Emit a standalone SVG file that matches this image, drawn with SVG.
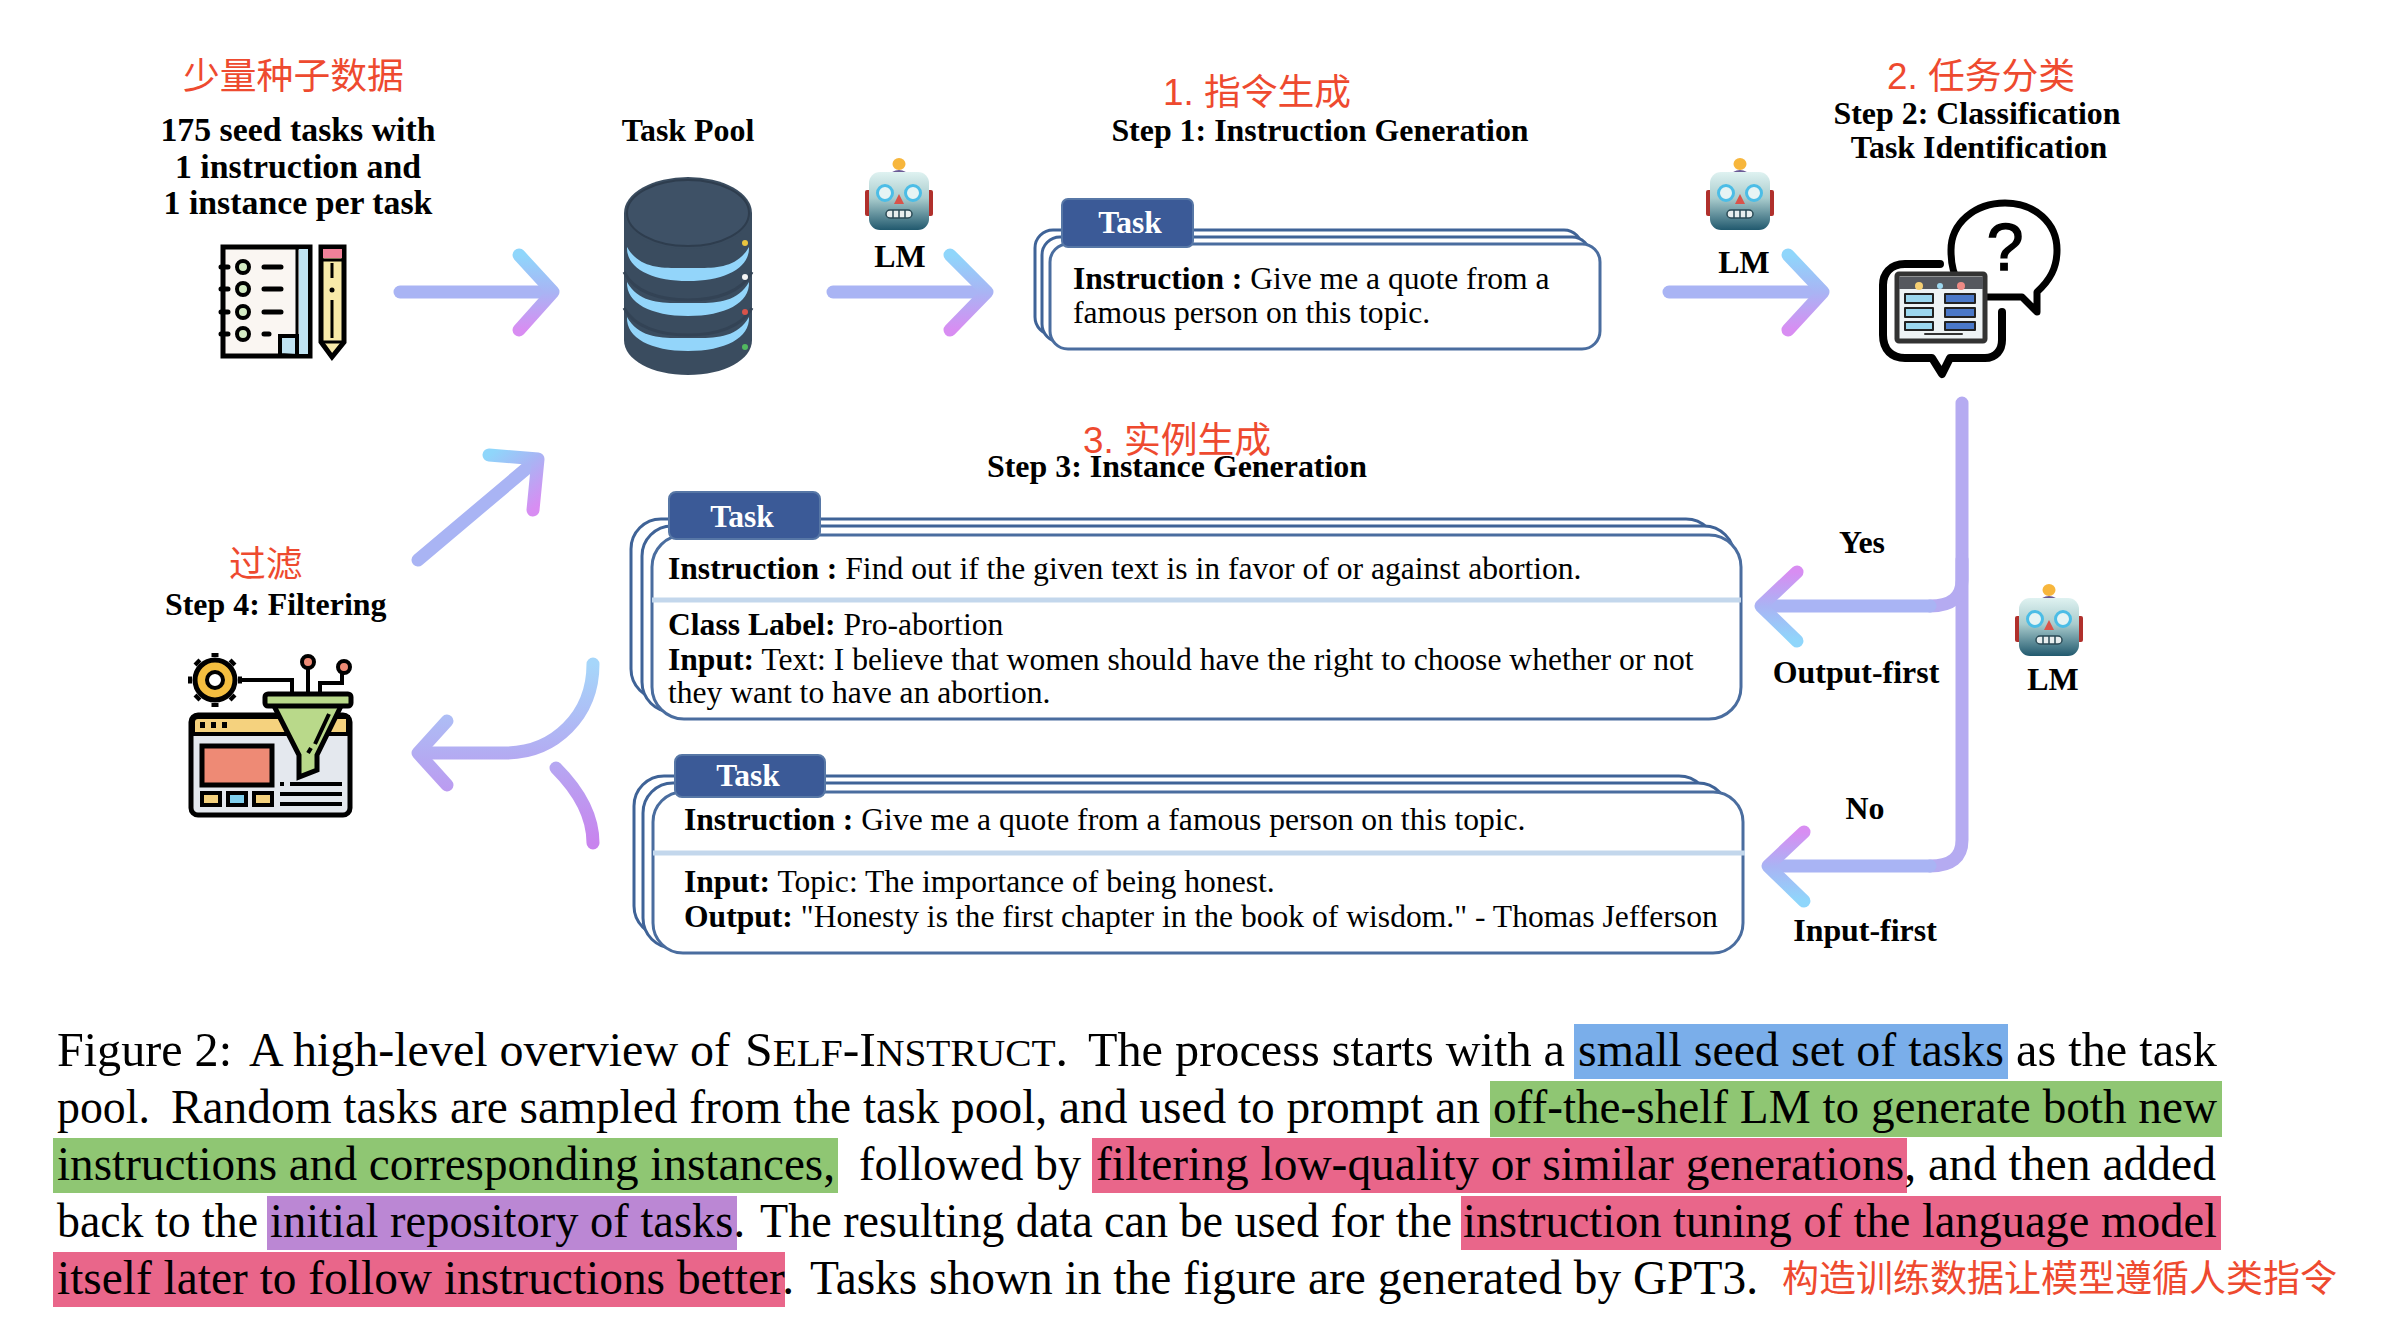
<svg xmlns="http://www.w3.org/2000/svg" width="2382" height="1330" viewBox="0 0 2382 1330">
<style>
text{font-family:"Liberation Serif","Noto Sans CJK SC",serif;fill:#000}
.l{font-size:31.900px;font-weight:700}
.s{font-size:33.800px;font-weight:700;text-anchor:middle}
.b{font-size:31.600px}
.b .k{font-weight:700}
.c{text-anchor:middle}
.t{font-size:31.500px;font-weight:700;fill:#fff;text-anchor:middle}
.z{font-family:"Liberation Sans","Noto Sans CJK SC",sans-serif;font-size:36.800px;fill:#ee4a2f}
.cap{font-size:48px}
.sm{font-size:38px}
.back{fill:#fff;stroke:#3f6397;stroke-width:3}
.front{fill:#fff;stroke:#4a6d9f;stroke-width:3}
.tab{fill:#3b5a97;stroke:#5777a6;stroke-width:2}
.div{stroke:#c3d7ec;stroke-width:5}
.ar{fill:none;stroke-width:13;stroke-linecap:round;stroke-linejoin:round}
.ik{stroke:#000;stroke-width:5;stroke-linejoin:round;stroke-linecap:round}
</style>
<defs>
<linearGradient id="gTop" gradientUnits="userSpaceOnUse" x1="0" y1="255" x2="0" y2="330"><stop offset="0" stop-color="#8fd6fb"/><stop offset=".5" stop-color="#a9b4f4"/><stop offset="1" stop-color="#d88df2"/></linearGradient>
<linearGradient id="gDiag" gradientUnits="userSpaceOnUse" x1="489" y1="455" x2="533" y2="510"><stop offset="0" stop-color="#8fd6fb"/><stop offset=".45" stop-color="#a9b4f4"/><stop offset="1" stop-color="#d88df2"/></linearGradient>
<linearGradient id="gCurve" gradientUnits="userSpaceOnUse" x1="0" y1="664" x2="0" y2="843"><stop offset="0" stop-color="#a6d6fa"/><stop offset=".5" stop-color="#b3acf2"/><stop offset="1" stop-color="#c884ee"/></linearGradient>
<linearGradient id="gY" gradientUnits="userSpaceOnUse" x1="0" y1="572" x2="0" y2="641"><stop offset="0" stop-color="#d88df2"/><stop offset=".5" stop-color="#a9b4f4"/><stop offset="1" stop-color="#8fd6fb"/></linearGradient>
<linearGradient id="gN" gradientUnits="userSpaceOnUse" x1="0" y1="832" x2="0" y2="901"><stop offset="0" stop-color="#d88df2"/><stop offset=".5" stop-color="#a9b4f4"/><stop offset="1" stop-color="#8fd6fb"/></linearGradient>
<linearGradient id="gHead" x1="0" y1="0" x2="0" y2="1"><stop offset="0" stop-color="#dff2f1"/><stop offset=".45" stop-color="#a9cccd"/><stop offset="1" stop-color="#21596e"/></linearGradient>
<g id="robot">
<rect x="-34" y="32" width="6" height="26" rx="2" fill="#b0302c"/><rect x="28" y="32" width="6" height="26" rx="2" fill="#b0302c"/>
<path d="M-9 18a9 6 0 0 1 18 0z" fill="#6a5a95"/>
<ellipse cx="0" cy="6" rx="6.500" ry="6" fill="#f7b63c"/>
<rect x="-30" y="14" width="60" height="58" rx="11" fill="url(#gHead)"/>
<circle cx="-14" cy="35" r="7.500" fill="#e6f4f4" stroke="#4cbde6" stroke-width="3"/><circle cx="14" cy="35" r="7.500" fill="#e6f4f4" stroke="#4cbde6" stroke-width="3"/>
<path d="M0 36l5 10h-10z" fill="#d9534a"/>
<rect x="-13" y="52" width="26" height="8" rx="4" fill="#e8eeee" stroke="#2a4a55" stroke-width="1.500"/>
<path d="M-6 52v8M0 52v8M6 52v8" stroke="#2a4a55" stroke-width="1.500"/>
</g>
</defs>
<rect width="2382" height="1330" fill="#fff"/>

<g id="connectors">
<g id="arrow-seed-pool"><path class="ar" stroke="#a9b4f4" d="M400 292H549"/><path class="ar" stroke="url(#gTop)" d="M519 255L553 292L519 330"/></g>
<g id="arrow-pool-step1"><path class="ar" stroke="#a9b4f4" d="M833 292H983"/><path class="ar" stroke="url(#gTop)" d="M950 255L987 292L950 330"/></g>
<g id="arrow-step1-step2"><path class="ar" stroke="#a9b4f4" d="M1669 292H1819"/><path class="ar" stroke="url(#gTop)" d="M1788 255L1823 292L1788 330"/></g>
<g id="arrow-split"><path class="ar" stroke="#b5abf1" stroke-width="14" d="M1962 403V840Q1962 866 1930 866"/><path class="ar" stroke="#b5abf1" d="M1962 560V580Q1962 606 1930 606"/>
<path class="ar" stroke="#a9b4f4" d="M1930 606H1767"/><path class="ar" stroke="url(#gY)" d="M1797 572L1761 606L1797 641"/>
<path class="ar" stroke="#a9b4f4" d="M1930 866H1774"/><path class="ar" stroke="url(#gN)" d="M1804 832L1768 866L1804 901"/></g>
<g id="arrow-filter"><path class="ar" stroke="url(#gCurve)" stroke-width="14" d="M593 664C593 715 555 753 505 753H424"/><path class="ar" stroke="url(#gCurve)" d="M447 721L418 753L447 785"/><path class="ar" stroke="url(#gCurve)" stroke-width="14" d="M556 768C578 790 593 815 593 843"/></g>
<g id="arrow-back"><path class="ar" stroke="#a9b4f4" d="M418 560L533 463"/><path class="ar" stroke="url(#gDiag)" d="M489 455L538 459L533 510"/></g>
</g>

<g id="seed-node">
<text class="z" x="183" y="89">少量种子数据</text>
<text class="s" x="298" y="141">175 seed tasks with</text>
<text class="s" x="298" y="178">1 instruction and</text>
<text class="s" x="298" y="214">1 instance per task</text>
<g id="seed-icon">
<rect x="223" y="247" width="87" height="109" fill="#faf6f2" stroke="#000" stroke-width="5"/>
<rect x="299" y="249" width="9" height="105" fill="#bfe3f2"/><path d="M297 247V356" stroke="#000" stroke-width="3"/>
<g fill="#d4ecc4" stroke="#000" stroke-width="4"><ellipse cx="243" cy="267" rx="6" ry="6"/><ellipse cx="243" cy="289" rx="6" ry="6"/><ellipse cx="243" cy="312" rx="6" ry="6"/><ellipse cx="243" cy="334" rx="6" ry="6"/></g>
<path class="ik" d="M221 267h7M221 289h7M221 312h7M221 334h7M264 267h17M264 289h17M264 312h17M264 334h5"/>
<path d="M280 355V336H297V356z" fill="#bfe3f2" stroke="#000" stroke-width="4"/>
<path d="M321 247H344V342L332 357L321 342z" fill="#f8eaa9" stroke="#000" stroke-width="5"/>
<rect x="323" y="249" width="19" height="9" fill="#f08199"/><path d="M320 260H345M320 342H345" stroke="#000" stroke-width="3"/><path d="M332 263V278M332 300V338" stroke="#000" stroke-width="3"/><circle cx="332" cy="290" r="2.500"/>
</g>
</g>

<g id="pool-node">
<text class="l c" x="688" y="141">Task Pool</text>
<path d="M624 213V340C624 360 652 375 688 375S752 360 752 340V213z" fill="#3a4c5f"/>
<path d="M624 272C634 292 660 300 688 300S742 292 752 272M624 308C634 327 660 335 688 335S742 327 752 308" fill="none" stroke="#334355" stroke-width="3"/>
<ellipse cx="688" cy="213" rx="64" ry="36" fill="#3a4c5f"/><ellipse cx="688" cy="213" rx="61" ry="33" fill="#3e5166" stroke="#2e3d4e" stroke-width="2"/>
<g fill="#93d5fa"><path d="M627 247C640 270 665 268 688 268S736 270 749 247C750 268 725 281 688 281S626 268 627 247z"/><path d="M627 282C640 305 665 303 688 303S736 305 749 282C750 303 725 316 688 316S626 303 627 282z"/><path d="M627 317C640 340 665 338 688 338S736 340 749 317C750 338 725 351 688 351S626 338 627 317z"/></g>
<circle cx="745" cy="243" r="3" fill="#e9c53f"/><circle cx="745" cy="277" r="3" fill="#f4f4f4"/><circle cx="745" cy="312" r="3" fill="#d9534a"/><circle cx="745" cy="347" r="3" fill="#52b960"/>
</g>

<g id="lm-1"><use href="#robot" x="899" y="158"/><text class="l c" x="900" y="267">LM</text></g>
<g id="lm-2"><use href="#robot" x="1740" y="158"/><text class="l c" x="1744" y="273">LM</text></g>
<g id="lm-3"><use href="#robot" x="2049" y="584"/><text class="l c" x="2053" y="690">LM</text></g>

<g id="step1-node">
<text class="z" x="1163" y="105">1. 指令生成</text>
<text class="l c" x="1320" y="141">Step 1: Instruction Generation</text>
<rect class="back" x="1035" y="230" width="547" height="105" rx="18"/><rect class="back" x="1042" y="237" width="548" height="105" rx="18"/><rect class="front" x="1050" y="244" width="550" height="105" rx="18"/>
<rect class="tab" x="1062" y="199" width="131" height="48" rx="6"/><text class="t" x="1130" y="233">Task</text>
<text class="b" x="1073" y="289"><tspan class="k">Instruction :</tspan> Give me a quote from a</text>
<text class="b" x="1073" y="323">famous person on this topic.</text>
</g>

<g id="step2-node">
<text class="z" x="1887" y="89">2. 任务分类</text>
<text class="l c" x="1977" y="124">Step 2: Classification</text>
<text class="l c" x="1979" y="158">Task Identification</text>
<g id="classify-icon" fill="none" stroke="#000" stroke-linecap="round" stroke-linejoin="round">
<path d="M1963 289C1953 275 1951 265 1951 250C1951 223 1975 203 2005 203C2035 203 2057 223 2057 250C2057 268 2050 280 2037 292L2037 312L2022 297H1985" stroke-width="7" fill="#fff"/>
<path d="M1940 264H1905C1890 264 1883 274 1883 285V335C1883 350 1892 358 1905 358H1932L1942 374L1950 358H1985C1996 358 2002 350 2002 340V312" stroke-width="8"/>
<rect x="1897" y="274" width="88" height="67" rx="2" fill="#eef3f5" stroke="#333" stroke-width="5"/>
<rect x="1899" y="277" width="84" height="12" fill="#55585f" stroke="none"/>
<g stroke="none"><circle cx="1919" cy="286" r="4" fill="#f6cf73"/><circle cx="1940" cy="286" r="3" fill="#9cd7ef"/><circle cx="1961" cy="286" r="4" fill="#ee8a85"/></g>
<g stroke="#222" stroke-width="2"><rect x="1905" y="294" width="28" height="9" fill="#9cd7ef"/><rect x="1945" y="294" width="30" height="9" fill="#4a78c8"/><rect x="1905" y="308" width="28" height="9" fill="#9cd7ef"/><rect x="1945" y="308" width="30" height="9" fill="#4a78c8"/><rect x="1905" y="322" width="28" height="8" fill="#9cd7ef"/><rect x="1945" y="322" width="30" height="8" fill="#4a78c8"/></g>
<path d="M1925 334H1962" stroke="#333" stroke-width="2"/>
</g>
<text x="2005" y="270" style="font-family:'Liberation Sans',sans-serif;font-size:66px" text-anchor="middle" stroke="#000" stroke-width="1.500">?</text>
</g>

<g id="step3-output-node">
<text class="z" x="1083" y="453">3. 实例生成</text>
<text class="l c" x="1177" y="477">Step 3: Instance Generation</text>
<rect class="back" x="631" y="519" width="1085" height="180" rx="30"/><rect class="back" x="642" y="526" width="1092" height="186" rx="30"/><rect class="front" x="652" y="535" width="1089" height="184" rx="32"/>
<rect class="tab" x="669" y="492" width="151" height="47" rx="7"/><text class="t" x="742" y="527">Task</text>
<path class="div" d="M652 600H1741"/>
<text class="b" x="668" y="579"><tspan class="k">Instruction :</tspan> Find out if the given text is in favor of or against abortion.</text>
<text class="b" x="668" y="635"><tspan class="k">Class Label:</tspan> Pro-abortion</text>
<text class="b" x="668" y="670"><tspan class="k">Input:</tspan> Text: I believe that women should have the right to choose whether or not</text>
<text class="b" x="668" y="703">they want to have an abortion.</text>
<text class="l c" x="1862" y="553">Yes</text>
<text class="l c" x="1856" y="683">Output-first</text>
</g>

<g id="step3-input-node">
<rect class="back" x="634" y="776" width="1075" height="160" rx="30"/><rect class="back" x="643" y="783" width="1085" height="165" rx="30"/><rect class="front" x="653" y="792" width="1090" height="161" rx="30"/>
<rect class="tab" x="675" y="755" width="150" height="42" rx="7"/><text class="t" x="748" y="786">Task</text>
<path class="div" d="M653 853H1745"/>
<text class="b" x="684" y="830"><tspan class="k">Instruction :</tspan> Give me a quote from a famous person on this topic.</text>
<text class="b" x="684" y="892"><tspan class="k">Input:</tspan> Topic: The importance of being honest.</text>
<text class="b" x="684" y="927"><tspan class="k">Output:</tspan> "Honesty is the first chapter in the book of wisdom." - Thomas Jefferson</text>
<text class="l c" x="1865" y="819">No</text>
<text class="l c" x="1865" y="941">Input-first</text>
</g>

<g id="step4-node">
<text class="z" x="229" y="577">过滤</text>
<text class="l" x="165" y="615">Step 4: Filtering</text>
<g id="filter-icon">
<circle cx="215" cy="680" r="20" fill="#f4be40" stroke="#000" stroke-width="5"/><circle cx="215" cy="680" r="8" fill="#fff" stroke="#000" stroke-width="4"/>
<path d="M215 657v-4M215 703v4M192 680h-4M238 680h4M199 664l-3-3M231 696l3 3M199 696l-3 3M231 664l3-3" stroke="#000" stroke-width="7"/>
<path d="M240 680H292V695M308 668V695M320 695V683H342V672" fill="none" stroke="#000" stroke-width="4"/>
<circle cx="308" cy="662" r="6" fill="#ee8a75" stroke="#000" stroke-width="4"/><circle cx="344" cy="667" r="6" fill="#ee8a75" stroke="#000" stroke-width="4"/>
<rect x="191" y="715" width="159" height="100" rx="7" fill="#e4e8ee" stroke="#000" stroke-width="5"/>
<path d="M193 734V722Q193 717 198 717H348V734z" fill="#f5d27e" stroke="#000" stroke-width="4"/>
<path d="M200 725h5M211 725h5M222 725h5" stroke="#000" stroke-width="6"/>
<rect x="202" y="746" width="70" height="39" fill="#ee8a75" stroke="#000" stroke-width="5"/>
<g fill="#f5d27e" stroke="#000" stroke-width="4"><rect x="202" y="793" width="18" height="12"/><rect x="228" y="793" width="18" height="12" fill="#80cfee"/><rect x="254" y="793" width="18" height="12"/></g>
<path d="M280 784h4M290 784h52M280 794h62M280 804h62" stroke="#000" stroke-width="4"/>
<path d="M272 702H343L317 755V770L299 777V755z" fill="#b9d98a" stroke="#000" stroke-width="5"/>
<rect x="265" y="694" width="86" height="12" rx="3" fill="#b9d98a" stroke="#000" stroke-width="5"/>
<path d="M329 714L315 744M311 748l-3 5" stroke="#000" stroke-width="4"/>
</g>
</g>

<g id="caption">
<g id="highlights"><rect x="1574" y="1024" width="434" height="55" fill="#7aaeea"/><rect x="1490" y="1081" width="732" height="56" fill="#8fc673"/><rect x="53" y="1138" width="785" height="55" fill="#8fc673"/><rect x="1092" y="1138" width="815" height="55" fill="#e9668a"/><rect x="267" y="1196" width="470" height="54" fill="#bb87d4"/><rect x="1461" y="1196" width="760" height="54" fill="#e9668a"/><rect x="53" y="1252" width="732" height="55" fill="#e9668a"/></g>
<g class="cap">
<text class="cap" x="57" y="1066" textLength="175" lengthAdjust="spacingAndGlyphs">Figure 2:</text>
<text class="cap" x="249" y="1066" textLength="481" lengthAdjust="spacingAndGlyphs">A high-level overview of</text>
<text class="cap" x="745" y="1066" textLength="323" lengthAdjust="spacingAndGlyphs">S<tspan class="sm">ELF</tspan>-I<tspan class="sm">NSTRUCT</tspan>.</text>
<text class="cap" x="1088" y="1066" textLength="477" lengthAdjust="spacingAndGlyphs">The process starts with a</text>
<text class="cap" x="1578" y="1066" textLength="426" lengthAdjust="spacingAndGlyphs">small seed set of tasks</text>
<text class="cap" x="2016" y="1066" textLength="201" lengthAdjust="spacingAndGlyphs">as the task</text>
<text class="cap" x="57" y="1123" textLength="93" lengthAdjust="spacingAndGlyphs">pool.</text>
<text class="cap" x="171" y="1123" textLength="1309" lengthAdjust="spacingAndGlyphs">Random tasks are sampled from the task pool, and used to prompt an</text>
<text class="cap" x="1493" y="1123" textLength="724" lengthAdjust="spacingAndGlyphs">off-the-shelf LM to generate both new</text>
<text class="cap" x="57" y="1180" textLength="778" lengthAdjust="spacingAndGlyphs">instructions and corresponding instances,</text>
<text class="cap" x="859" y="1180" textLength="222" lengthAdjust="spacingAndGlyphs">followed by</text>
<text class="cap" x="1096" y="1180" textLength="820" lengthAdjust="spacingAndGlyphs">filtering low-quality or similar generations,</text>
<text class="cap" x="1928" y="1180" textLength="288" lengthAdjust="spacingAndGlyphs">and then added</text>
<text class="cap" x="57" y="1237" textLength="201" lengthAdjust="spacingAndGlyphs">back to the</text>
<text class="cap" x="270" y="1237" textLength="475" lengthAdjust="spacingAndGlyphs">initial repository of tasks.</text>
<text class="cap" x="760" y="1237" textLength="692" lengthAdjust="spacingAndGlyphs">The resulting data can be used for the</text>
<text class="cap" x="1463" y="1237" textLength="754" lengthAdjust="spacingAndGlyphs">instruction tuning of the language model</text>
<text class="cap" x="57" y="1294" textLength="737" lengthAdjust="spacingAndGlyphs">itself later to follow instructions better.</text>
<text class="cap" x="810" y="1294" textLength="948" lengthAdjust="spacingAndGlyphs">Tasks shown in the figure are generated by GPT3.</text>
</g>
<text class="z" x="1782" y="1292" style="font-size:37px">构造训练数据让模型遵循人类指令</text>
</g>
</svg>
